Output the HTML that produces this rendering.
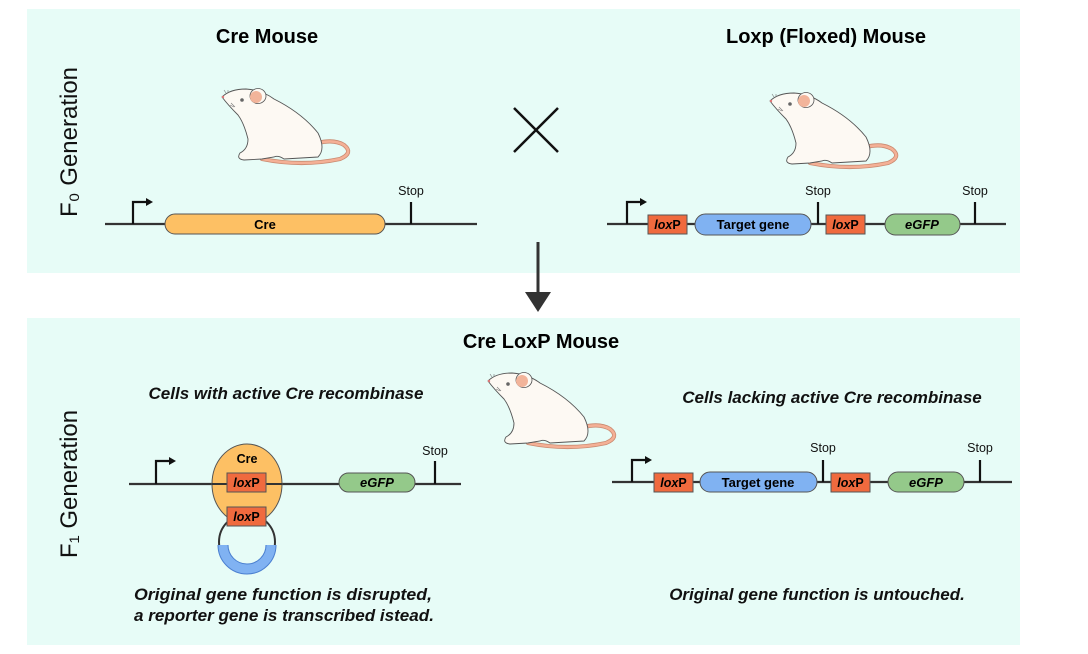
<!DOCTYPE html>
<html><head><meta charset="utf-8"><style>
html,body{margin:0;padding:0;background:#fff;}
svg{display:block;font-family:"Liberation Sans",Arial,sans-serif;}
</style></head><body>
<svg width="1088" height="654" viewBox="0 0 1088 654" xmlns="http://www.w3.org/2000/svg">
<defs>
<g id="mouse">
  <path d="M40,66 Q80,74 118,66 Q132,60 122,52 Q112,46 96,50" fill="none" stroke="#c98a70" stroke-width="4.2" stroke-linecap="round"/>
  <path d="M40,66 Q80,74 118,66 Q132,60 122,52 Q112,46 96,50" fill="none" stroke="#f4b096" stroke-width="2.6" stroke-linecap="round"/>
  <path d="M0,4 Q8,-4 24,-4 Q40,-3 52,6 Q80,20 96,40 Q104,56 96,64 L62,66 Q56,62 52,64 L40,66 L22,67 Q14,66 18,60 Q26,56 26,46 Q22,30 16,22 Q6,12 0,4 Z" fill="#fdf9f3" stroke="#555" stroke-width="0.9"/>
  <ellipse cx="36" cy="3" rx="8" ry="7.5" fill="#fdf9f3" stroke="#555" stroke-width="0.8"/>
  <ellipse cx="34" cy="4" rx="6" ry="6" fill="#f2b49a"/>
  <circle cx="20" cy="7" r="1.8" fill="#666"/>
  <circle cx="1" cy="4" r="1.2" fill="#d77"/>
  <path d="M4,0 l-2,-3 M6,0 l0,-3 M8,12 l4,2 M9,10 l4,4" stroke="#777" stroke-width="0.6"/>
</g>
<g id="lox">
  <rect x="0" y="0" width="39" height="19" fill="#f06a3e" stroke="#555" stroke-width="1"/>
  <text x="19.5" y="14" text-anchor="middle" font-size="12.5" font-weight="bold"><tspan font-style="italic">lox</tspan>P</text>
</g>
</defs>

<rect x="27" y="9" width="993" height="264" fill="#e7fcf7"/>
<rect x="27" y="318" width="993" height="327" fill="#e7fcf7"/>

<text transform="translate(77,142) rotate(-90)" text-anchor="middle" font-size="24" fill="#111">F₀ Generation</text>
<text transform="translate(77,484) rotate(-90)" text-anchor="middle" font-size="24" fill="#111">F₁ Generation</text>

<text x="267" y="43" text-anchor="middle" font-size="20" font-weight="bold">Cre Mouse</text>
<text x="826" y="43" text-anchor="middle" font-size="20" font-weight="bold">Loxp (Floxed) Mouse</text>
<text x="541" y="348" text-anchor="middle" font-size="20" font-weight="bold">Cre LoxP Mouse</text>

<use href="#mouse" transform="translate(222,93)"/>
<use href="#mouse" transform="translate(770,97)"/>
<use href="#mouse" transform="translate(488,377)"/>

<path d="M514,108 L558,152 M558,108 L514,152" stroke="#111" stroke-width="2.5"/>
<line x1="538" y1="242" x2="538" y2="294" stroke="#333" stroke-width="3"/>
<polygon points="525,292 551,292 538,312" fill="#333"/>

<g stroke="#333" stroke-width="2.2" fill="none">
<line x1="105" y1="224" x2="477" y2="224"/>
<line x1="607" y1="224" x2="1006" y2="224"/>
<line x1="129" y1="484" x2="461" y2="484"/>
<line x1="612" y1="482" x2="1012" y2="482"/>
</g>
<g stroke="#111" stroke-width="2.2" fill="none">
<path d="M133,224 V202 H148"/><path d="M411,224 V202"/>
<path d="M627,224 V202 H642"/><path d="M818,224 V202"/><path d="M975,224 V202"/>
<path d="M156,484 V461 H171"/><path d="M435,484 V461"/>
<path d="M632,482 V460 H647"/><path d="M823,482 V460"/><path d="M980,482 V460"/>
</g>
<g fill="#111">
<polygon points="146,198 153,202 146,206"/>
<polygon points="640,198 647,202 640,206"/>
<polygon points="169,457 176,461 169,465"/>
<polygon points="645,456 652,460 645,464"/>
</g>
<g font-size="12.5" text-anchor="middle" fill="#111">
<text x="411" y="195">Stop</text><text x="818" y="195">Stop</text><text x="975" y="195">Stop</text>
<text x="435" y="455">Stop</text><text x="823" y="452">Stop</text><text x="980" y="452">Stop</text>
</g>

<rect x="165" y="214" width="220" height="20" rx="10" fill="#fdc064" stroke="#555"/>
<text x="265" y="229" text-anchor="middle" font-size="13" font-weight="bold">Cre</text>

<use href="#lox" transform="translate(648,215)"/>
<rect x="695" y="214" width="116" height="21" rx="10.5" fill="#80b2f2" stroke="#555"/>
<text x="753" y="229" text-anchor="middle" font-size="13" font-weight="bold">Target gene</text>
<use href="#lox" transform="translate(826,215)"/>
<rect x="885" y="214" width="75" height="21" rx="10.5" fill="#94c98a" stroke="#555"/>
<text x="922" y="229" text-anchor="middle" font-size="13" font-weight="bold" font-style="italic">eGFP</text>

<ellipse cx="247" cy="484" rx="35" ry="40" fill="#fdc064" stroke="#555"/>
<line x1="212" y1="484" x2="282" y2="484" stroke="#333" stroke-width="2"/>
<text x="247" y="463" text-anchor="middle" font-size="12.5" font-weight="bold">Cre</text>
<use href="#lox" transform="translate(227,473)"/>
<circle cx="247" cy="542" r="28" fill="none" stroke="#333" stroke-width="2"/>
<path d="M223,545 A24,24 0 0 0 271,545" fill="none" stroke="#4a7fd0" stroke-width="11"/>
<path d="M223,545 A24,24 0 0 0 271,545" fill="none" stroke="#80b2f2" stroke-width="9"/>
<use href="#lox" transform="translate(227,507)"/>
<rect x="339" y="473" width="76" height="19" rx="9.5" fill="#94c98a" stroke="#555"/>
<text x="377" y="487" text-anchor="middle" font-size="13" font-weight="bold" font-style="italic">eGFP</text>

<use href="#lox" transform="translate(654,473)"/>
<rect x="700" y="472" width="117" height="20" rx="10" fill="#80b2f2" stroke="#555"/>
<text x="758" y="487" text-anchor="middle" font-size="13" font-weight="bold">Target gene</text>
<use href="#lox" transform="translate(831,473)"/>
<rect x="888" y="472" width="76" height="20" rx="10" fill="#94c98a" stroke="#555"/>
<text x="926" y="487" text-anchor="middle" font-size="13" font-weight="bold" font-style="italic">eGFP</text>

<g font-size="17" font-weight="bold" font-style="italic" fill="#111">
<text x="286" y="399" text-anchor="middle">Cells with active Cre recombinase</text>
<text x="832" y="403" text-anchor="middle">Cells lacking active Cre recombinase</text>
<text x="134" y="600" textLength="298" lengthAdjust="spacingAndGlyphs">Original gene function is disrupted,</text>
<text x="134" y="621" textLength="300" lengthAdjust="spacingAndGlyphs">a reporter gene is transcribed istead.</text>
<text x="817" y="600" text-anchor="middle">Original gene function is untouched.</text>
</g>
</svg>
</body></html>
